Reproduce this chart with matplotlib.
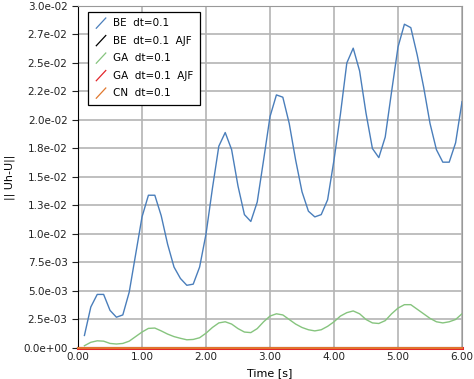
import matplotlib
matplotlib.use("Agg")
import matplotlib.pyplot as plt
import numpy as np
from matplotlib.legend_handler import HandlerBase
from matplotlib.lines import Line2D
from matplotlib.ticker import FixedLocator, FixedFormatter, FormatStrFormatter

# time steps, dt = 0.1
t = [round(0.1 * i, 1) for i in range(1, 61)]

be = [0.0011, 0.0036, 0.0047, 0.0047, 0.0033, 0.0027, 0.0029, 0.0049, 0.0082, 0.0115,
      0.0134, 0.0134, 0.0116, 0.0091, 0.0071, 0.0061, 0.0055, 0.0056, 0.0071, 0.0100,
      0.0140, 0.0177, 0.0189, 0.0174, 0.0142, 0.0117, 0.0111, 0.0128, 0.0165, 0.0203,
      0.0222, 0.0220, 0.0197, 0.0165, 0.0137, 0.0120, 0.0115, 0.0117, 0.0130, 0.0165,
      0.0205, 0.0250, 0.0263, 0.0243, 0.0206, 0.0175, 0.0167, 0.0185, 0.0225, 0.0264,
      0.0284, 0.0281, 0.0257, 0.0229, 0.0197, 0.0174, 0.0163, 0.0163, 0.0180, 0.0216]

ga = [0.0002, 0.0005, 0.00063, 0.0006, 0.0004, 0.00035, 0.0004, 0.0006, 0.0010, 0.0014,
      0.00172, 0.00175, 0.0015, 0.00122, 0.0010, 0.00085, 0.00072, 0.00075, 0.0009, 0.0013,
      0.0018, 0.0022, 0.0023, 0.0021, 0.0017, 0.0014, 0.00135, 0.0017, 0.0023, 0.0028,
      0.0030, 0.0029, 0.0025, 0.0021, 0.0018, 0.0016, 0.0015, 0.0016, 0.0019, 0.0023,
      0.0028, 0.0031, 0.00325, 0.0030, 0.0025, 0.0022, 0.00215, 0.0024, 0.0030, 0.0035,
      0.0038, 0.0038, 0.0034, 0.0030, 0.0026, 0.0023, 0.0022, 0.0023, 0.0025, 0.0030]

# the AJF and CN runs sit on the zero line
t0 = [0.0] + t
be_ajf = [0.0] * 61
ga_ajf = [0.0] * 61
cn = [0.0] * 61

yticks = [0.0025 * i for i in range(13)]
ylabels = ["0.0e+00", "2.5e-03", "5.0e-03", "7.5e-03", "1.0e-02", "1.3e-02", "1.5e-02",
           "1.8e-02", "2.0e-02", "2.2e-02", "2.5e-02", "2.7e-02", "3.0e-02"]


class DiagHandler(HandlerBase):
    # legend sample drawn as a short slanted stroke
    def create_artists(self, legend, orig_handle, xdescent, ydescent, width, height, fontsize, trans):
        x0 = width * 0.15 - xdescent
        x1 = width * 0.85 - xdescent
        y0 = -ydescent - height * 0.25
        y1 = height * 1.15 - ydescent
        ln = Line2D([x0, x1], [y0, y1], color=orig_handle.get_color(), lw=0.9, transform=trans)
        return [ln]


fig = plt.figure(figsize=(4.74, 3.79), dpi=100)
ax = fig.add_axes([0.1646, 0.0818, 0.8101, 0.9024])

l1, = ax.plot(t, be, color="#4a7ebb", lw=1.0, label="BE  dt=0.1")
l2, = ax.plot(t0, be_ajf, color="black", lw=1.5, label="BE  dt=0.1  AJF", clip_on=False, zorder=3)
l3, = ax.plot(t, ga, color="#86c47e", lw=1.0, label="GA  dt=0.1")
l4, = ax.plot(t0, ga_ajf, color="#e3262b", lw=2.2, label="GA  dt=0.1  AJF", clip_on=False, zorder=3)
l5, = ax.plot(t0, cn, color="#e0782e", lw=1.4, label="CN  dt=0.1", clip_on=False, zorder=3)

ax.set_xlim(0, 6)
ax.set_ylim(0, 0.03)
ax.xaxis.set_major_locator(FixedLocator([0, 1, 2, 3, 4, 5, 6]))
ax.xaxis.set_major_formatter(FormatStrFormatter("%.2f"))
ax.yaxis.set_major_locator(FixedLocator(yticks))
ax.yaxis.set_major_formatter(FixedFormatter(ylabels))
ax.tick_params(axis="both", labelsize=7.5, length=4, width=0.8, colors="#222222")
ax.tick_params(axis="x", length=0, pad=3)

ax.grid(True, color="#b4b4b4", lw=1.2)
ax.set_axisbelow(True)
for s in ("top", "right"):
    ax.spines[s].set_color("#999999")
ax.spines["left"].set_color("black")
ax.spines["bottom"].set_color("#999999")

ax.set_xlabel("Time [s]", fontsize=8, labelpad=4)
ax.set_ylabel("|| Uh-U||", fontsize=8, labelpad=6)

handles = [l1, l2, l3, l4, l5]
leg = ax.legend(handles=handles, handler_map={Line2D: DiagHandler()},
                loc="upper left", bbox_to_anchor=(0.026, 0.982), borderaxespad=0,
                fontsize=7.5, frameon=True, fancybox=False, edgecolor="black",
                framealpha=1, handlelength=1.3, labelspacing=0.72, borderpad=0.6,
                handletextpad=0.5)
leg.get_frame().set_linewidth(0.9)

fig.savefig("out.png", dpi=100)
